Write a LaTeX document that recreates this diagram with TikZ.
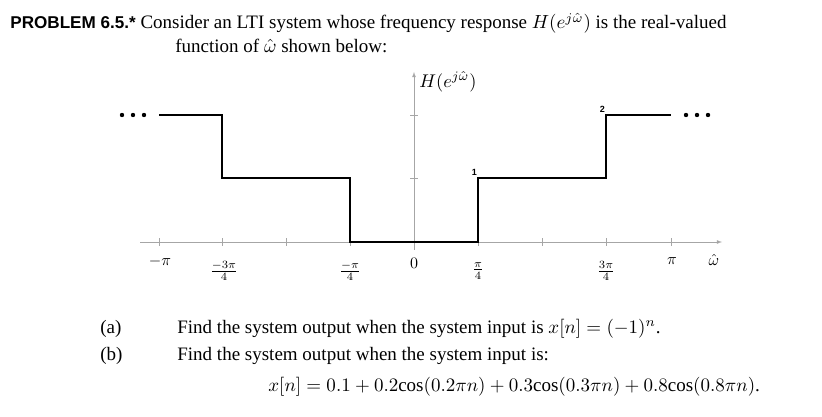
\documentclass[tikz,border=0pt]{standalone}
\usepackage{fontspec}
\setmainfont{Liberation Serif}
\newfontfamily\hv{Liberation Sans}
\begin{document}
\begin{tikzpicture}[x=1pt,y=-1pt,
  txt/.style={anchor=base west,inner sep=0,font=\normalsize,scale=1.9,transform shape},
  tl/.style={font=\normalsize,inner sep=0,scale=1.6,transform shape},
  curve/.style={line width=1.6pt},
  axis/.style={gray!70,line width=0.8pt}]
\useasboundingbox (0,0) rectangle (822,417);
\node[txt] (p) at (10,29) {{\hv\bfseries\small PROBLEM 6.5.*}\ Consider an LTI system whose frequency response $H(e^{j\hat\omega})$ is the real-valued};
\node[txt] (p2) at (175,53) {function of $\hat\omega$ shown below:};
% axes
\coordinate (xl) at (140,242); \coordinate (xr) at (722,242);
\coordinate (yb) at (414,250); \coordinate (yt) at (414,72);
\draw[axis,-latex] (xl) -- (xr);
\draw[axis,-latex] (yb) -- (yt);
\foreach \x in {159,222,286,350,478,542,606,671} \draw[axis] (\x,238) -- (\x,246);
\draw[axis] (410,178) -- (418,178); \draw[axis] (410,115) -- (418,115);
\node[tl,anchor=west,scale=1.15] (hl) at (419,82) {$H(e^{j\hat\omega})$};
% curve
\draw[curve] (159,115) -- (222,115) -- (222,178) -- (350,178) -- (350,242) -- (478,242) -- (478,178) -- (606,178) -- (606,115) -- (671,115);
\node[font=\hv\bfseries\small,anchor=east,inner sep=1pt] (l1) at (478,172) {1};
\node[font=\hv\bfseries\small,anchor=east,inner sep=1pt] (l2) at (606,109) {2};
\foreach \x in {122,133,144,686,697,708} \fill (\x,115) circle (2.2);
% tick labels
\node[tl] (a1) at (160,261) {$-\pi$};
\node[tl] (a2) at (224,271) {$\frac{-3\pi}{4}$};
\node[tl] (a3) at (350,271) {$\frac{-\pi}{4}$};
\node[tl] (a4) at (414,263) {$0$};
\node[tl] (a5) at (478,271) {$\frac{\pi}{4}$};
\node[tl] (a6) at (606,271) {$\frac{3\pi}{4}$};
\node[tl] (a7) at (672,261) {$\pi$};
\node[tl] (a8) at (714,260) {$\hat\omega$};
% parts
\node[txt] (qa) at (100,333) {(a)};
\node[txt] (ta) at (177,333) {Find the system output when the system input is $x[n]=(-1)^n$.};
\node[txt] (qb) at (100,360) {(b)};
\node[txt] (tb) at (177,360) {Find the system output when the system input is:};
\node[txt] (tc) at (268,391) {$x[n]=0.1+0.2\mathrm{cos}(0.2\pi n)+0.3\mathrm{cos}(0.3\pi n)+0.8\mathrm{cos}(0.8\pi n)$.};
\end{tikzpicture}
\end{document}
